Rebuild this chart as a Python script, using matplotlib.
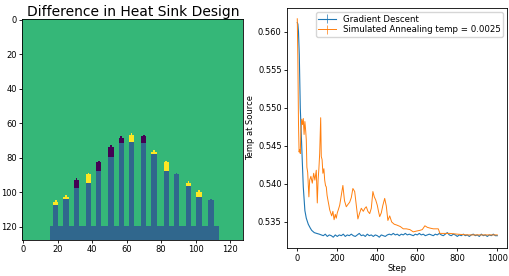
import numpy as np
import matplotlib
matplotlib.use("Agg")
from matplotlib import pyplot as plt

# heat sink difference image (128x128)
# 0 = fin only in design A, 1 = fin in both, 2 = air, 3 = fin only in design B
grid_size = 128
base_rows = (120, 128)
base_cols = (16, 114)
fin_cols = [19, 25, 31, 38, 44, 51, 57, 63, 70, 76, 83, 89, 96, 102, 109]
fin_tops = [108, 104, 98, 95, 88, 80, 72, 71, 72, 78, 88, 89, 97, 103, 104]
cap_rows = [3, 2, 6, 6, 6, 7, 4, 5, 5, 2, 6, 0, 3, 4, 0]
cap_kind = [3, 3, 0, 3, 0, 0, 0, 3, 0, 3, 3, 1, 3, 3, 1]

# optimisation curves
gd_steps = [0, 3, 6, 10, 15, 20, 25, 30, 38, 45, 55, 65, 72, 85, 97,
            110, 120, 130, 140, 150, 160, 170, 180, 190, 200, 210, 220, 230,
            240, 250, 260, 270, 280, 290, 300, 310, 320, 330, 340, 350, 360,
            370, 380, 390, 400, 410, 420, 430, 440, 450, 460, 470, 480, 490,
            500, 510, 520, 530, 540, 550, 560, 570, 580, 590, 600, 610, 620,
            630, 640, 650, 660, 670, 680, 690, 700, 710, 720, 730, 740, 750,
            760, 770, 780, 790, 800, 810, 820, 830, 840, 850, 860, 870, 880,
            890, 900, 910, 920, 930, 940, 950, 960, 970, 980, 990, 1000]
gd_temp = [0.5612, 0.5610, 0.5600, 0.5570, 0.5500, 0.5465, 0.5430, 0.5396,
           0.5365, 0.5355, 0.5347, 0.5342, 0.5339, 0.5336, 0.5335,
           0.5334, 0.5333, 0.5332, 0.5334, 0.5331, 0.5333, 0.5332, 0.5330,
           0.5333, 0.5331, 0.5333, 0.5332, 0.5334, 0.5331, 0.5333, 0.5332,
           0.5334, 0.5332, 0.5331, 0.5333, 0.5335, 0.5332, 0.5333, 0.5331,
           0.5334, 0.5332, 0.5333, 0.5331, 0.5333, 0.5332, 0.5330, 0.5333,
           0.5332, 0.5331, 0.5333, 0.5334, 0.5333, 0.5335, 0.5333, 0.5334,
           0.5332, 0.5334, 0.5333, 0.5335, 0.5333, 0.5334, 0.5333, 0.5332,
           0.5334, 0.5333, 0.5335, 0.5333, 0.5334, 0.5332, 0.5333, 0.5334,
           0.5333, 0.5332, 0.5334, 0.5333, 0.5335, 0.5333, 0.5332, 0.5334,
           0.5336, 0.5333, 0.5332, 0.5334, 0.5333, 0.5331, 0.5333, 0.5332,
           0.5334, 0.5332, 0.5333, 0.5331, 0.5333, 0.5334, 0.5332, 0.5333,
           0.5331, 0.5334, 0.5332, 0.5333, 0.5331, 0.5333, 0.5332, 0.5334,
           0.5332, 0.5332]

sa_steps = [0, 3, 6, 9, 12, 15, 18, 22, 26, 30, 34, 38, 42, 45, 48, 52, 58,
            62, 68, 75, 82, 88, 95, 100, 104, 108, 112, 117, 120, 124, 128,
            133, 137, 141, 145, 149, 153, 158, 162, 167, 172, 178, 184, 190,
            195, 200, 205, 212, 220, 228, 236, 245, 253, 262, 270, 278, 287,
            295, 303, 312, 320, 330, 338, 345, 353, 362, 370, 378, 385, 392,
            400, 406, 412, 420, 428, 437, 445, 453, 462, 472, 485, 497, 515,
            530, 545, 563, 580, 595, 613, 625, 638, 650, 663, 680, 705, 713,
            740, 763, 800, 850, 897, 950, 1000]
sa_temp = [0.5617, 0.5560, 0.5480, 0.5442, 0.5445, 0.5440, 0.5470, 0.5485,
           0.5478, 0.5486, 0.5465, 0.5482, 0.5470, 0.5458, 0.5422, 0.5415,
           0.5383, 0.5405, 0.5410, 0.5401, 0.5414, 0.5405, 0.5418, 0.5375,
           0.5405, 0.5420, 0.5440, 0.5487, 0.5436, 0.5432, 0.5414, 0.5420,
           0.5405, 0.5398, 0.5396, 0.5385, 0.5379, 0.5372, 0.5366, 0.5362,
           0.5358, 0.5364, 0.5353, 0.5360, 0.5355, 0.5362, 0.5366, 0.5372,
           0.5385, 0.5398, 0.5378, 0.5370, 0.5373, 0.5376, 0.5382, 0.5394,
           0.5390, 0.5372, 0.5354, 0.5362, 0.5368, 0.5364, 0.5368, 0.5370,
           0.5364, 0.5361, 0.5368, 0.5390, 0.5383, 0.5379, 0.5372, 0.5364,
           0.5357, 0.5362, 0.5372, 0.5381, 0.5371, 0.5352, 0.5358, 0.5350,
           0.5347, 0.5346, 0.5344, 0.5341, 0.5341, 0.5340, 0.5337, 0.5338,
           0.5339, 0.5340, 0.5345, 0.5343, 0.5342, 0.5341, 0.5341, 0.5335,
           0.5335, 0.5335, 0.5334, 0.5333, 0.5333, 0.5333, 0.5333]

img = np.full((grid_size, grid_size), 2.0)
img[base_rows[0]:base_rows[1], base_cols[0]:base_cols[1]] = 1
for c, top, ch, kind in zip(fin_cols, fin_tops, cap_rows, cap_kind):
    img[top:base_rows[0], c - 1:c + 2] = 1
    if ch > 0:
        img[top - ch:top, c - 1:c + 2] = kind
        img[top - ch, c - 1] = 2
        img[top - ch, c + 1] = 2
    else:
        img[top, c - 1] = 2
        img[top, c + 1] = 2

fig = plt.figure(figsize=(5.1, 2.76), dpi=100)
ax1 = fig.add_axes([0.0441, 0.132, 0.4324, 0.799])
ax2 = fig.add_axes([0.5633, 0.101, 0.4314, 0.8705])

ax1.imshow(img, cmap="viridis", vmin=0, vmax=3, interpolation="nearest")
ax1.set_title("Difference in Heat Sink Design", fontsize=10, pad=2)
ax1.set_xticks(range(0, 121, 20))
ax1.set_yticks(range(0, 121, 20))
ax1.tick_params(labelsize=6, length=2.5, width=0.6, pad=1.5)

ax2.errorbar(gd_steps, gd_temp, yerr=0.0, lw=0.8, elinewidth=0.5,
             label="Gradient Descent")
ax2.errorbar(sa_steps, sa_temp, yerr=0.0, lw=0.7, elinewidth=0.5,
             label="Simulated Annealing temp = 0.0025")
ax2.set_xlabel("Step", fontsize=6, labelpad=1)
ax2.set_ylabel("Temp at Source", fontsize=6, labelpad=2)
ax2.tick_params(labelsize=6, length=2.5, width=0.6, pad=1.5)
ax2.legend(loc="upper right", fontsize=6.2, handlelength=2.0,
           borderpad=0.3, labelspacing=0.2)

for ax in (ax1, ax2):
    for s in ax.spines.values():
        s.set_linewidth(0.6)

fig.savefig("out.png", dpi=100)
